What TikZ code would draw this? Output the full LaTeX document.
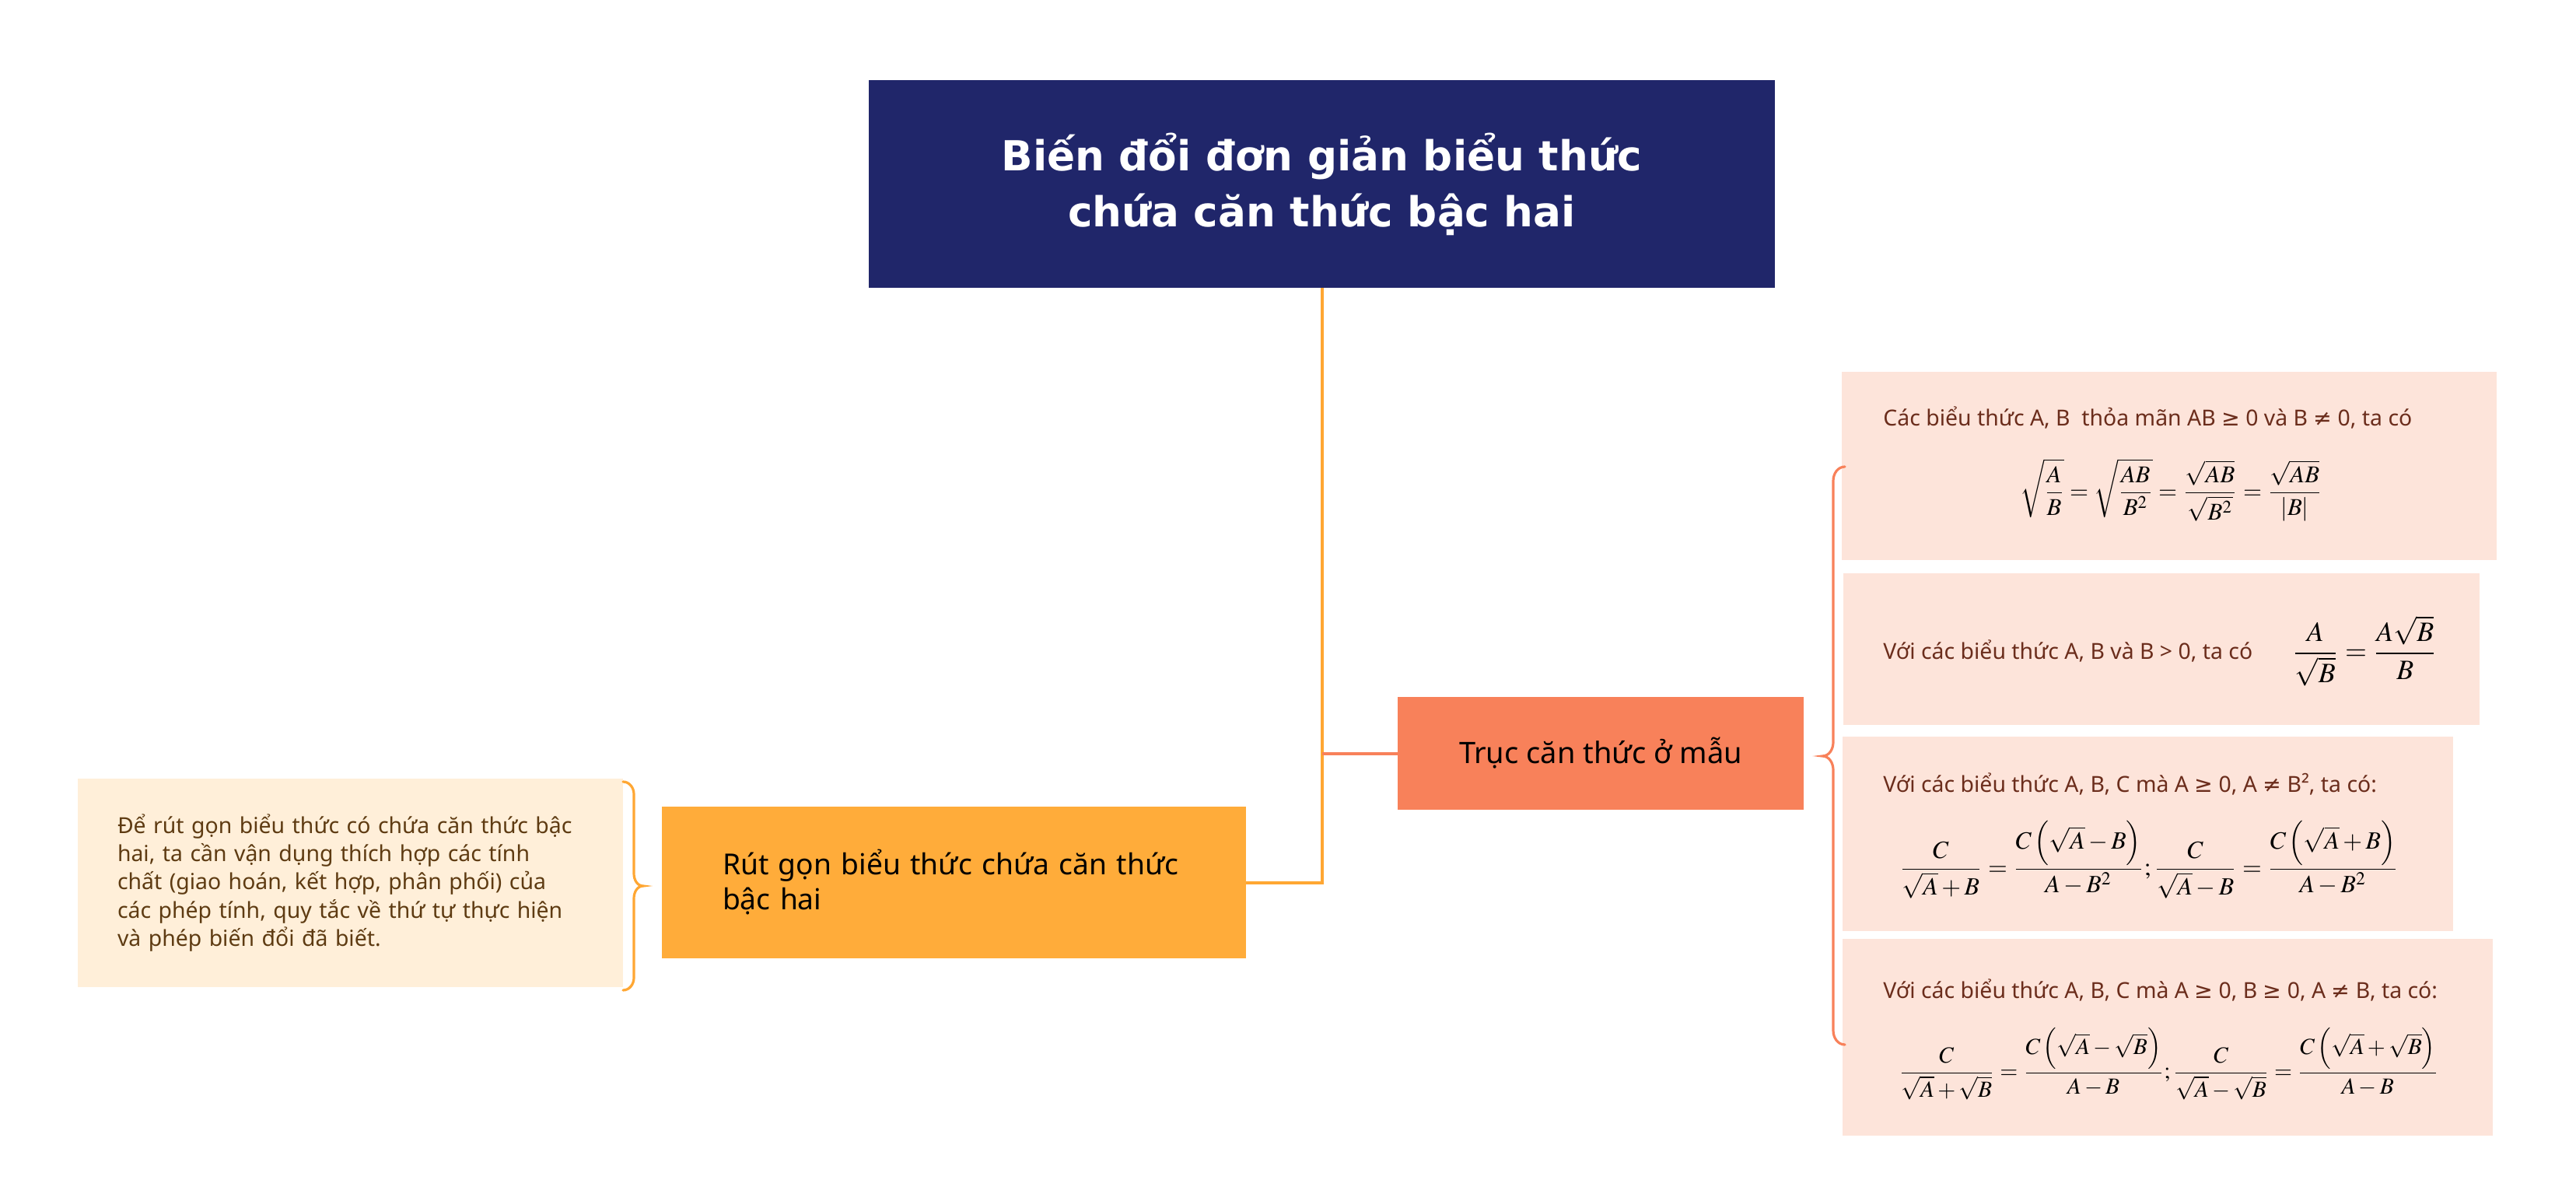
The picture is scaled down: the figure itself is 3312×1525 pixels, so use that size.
\documentclass[tikz,border=0pt]{standalone}
\usepackage{mathptmx}
\usepackage[no-math]{fontspec}
\setmainfont{Noto Sans}
\newfontfamily\titlefont{DejaVu Sans}
\newfontfamily\symfont{DejaVu Sans}
\newcommand{\geqsym}{{\symfont ≥}}
\newcommand{\neqsym}{{\symfont ≠}}
\usepackage{graphicx}
\definecolor{navy}{HTML}{20266A}
\definecolor{salmon}{HTML}{F8815A}
\definecolor{amber}{HTML}{FFAC3A}
\definecolor{cream}{HTML}{FFEFD9}
\definecolor{pinkbox}{HTML}{FDE4DA}
\definecolor{lineorange}{HTML}{FFA733}
\definecolor{notetext}{HTML}{5E3B12}
\definecolor{pinktext}{HTML}{6B2D1C}
\begin{document}
\begin{tikzpicture}[x=0.5pt,y=-0.5pt,
  boxnode/.style={inner sep=0pt, outer sep=0pt},
  conn/.style={line width=2pt, draw=lineorange},
  connT/.style={line width=2pt, draw=salmon},
  bracel/.style={line width=1.6pt, draw=lineorange, line cap=round},
  bracer/.style={line width=1.6pt, draw=salmon, line cap=round},
  ptext/.style={inner sep=0pt, anchor=west, text=pinktext, font=\fontsize{14.2}{17}\selectfont},
  fml/.style={inner sep=0pt, text=black}]
\useasboundingbox (0,0) rectangle (3312,1525);
\fill[white] (0,0) rectangle (3312,1525);

% title
\node[boxnode, fill=navy, minimum width=582.5pt, minimum height=133.5pt,
  text=white, align=center, font=\titlefont\bfseries\fontsize{26.6}{36}\selectfont] (title) at (1699.5,236.5)
  {Biến đổi đơn giản biểu thức\\chứa căn thức bậc hai};

% level 1
\node[boxnode, fill=salmon, minimum width=261pt, minimum height=72.5pt,
  font=\fontsize{19}{22}\selectfont] (truc) at (2058,968.5) {Trục căn thức ở mẫu};
\node[boxnode, fill=amber, minimum height=97.5pt, text width=297.5pt, inner xsep=39pt,
  align=left, font=\fontsize{18.6}{22.5}\selectfont] (rutgon) at (1226.5,1134.5)
  {Rút gọn biểu thức chứa căn thức\\bậc hai};

% note on the left
\node[boxnode, fill=cream, minimum height=134pt, text width=299.5pt, inner xsep=25.5pt,
  align=left, text=notetext, font=\fontsize{14.2}{18.2}\selectfont] (note) at (450.5,1135)
  {Để rút gọn biểu thức có chứa căn thức bậc\\hai, ta cần vận dụng thích hợp các tính\\chất (giao hoán, kết hợp, phân phối) của\\các phép tính, quy tắc về thứ tự thực hiện\\và phép biến đổi đã biết.};

% right boxes
\node[boxnode, fill=pinkbox, minimum width=421pt, minimum height=121pt] (r1) at (2789,599) {};
\node[boxnode, fill=pinkbox, minimum width=409pt, minimum height=97.5pt] (r2) at (2779,834.5) {};
\node[boxnode, fill=pinkbox, minimum width=392.5pt, minimum height=125pt] (r3) at (2761.5,1072) {};
\node[boxnode, fill=pinkbox, minimum width=418pt, minimum height=126.5pt] (r4) at (2786.5,1333.5) {};

\node[ptext] (r1t) at (2421,537) {Các biểu thức A, B\ \ thỏa mãn AB \geqsym{} 0 và B \neqsym{} 0, ta có};
\node[fml] (r1f) at (2791.5,630) {\resizebox{194.5pt}{!}{$\displaystyle \sqrt{\frac{A}{B}}=\sqrt{\frac{AB}{B^2}}=\frac{\sqrt{AB}}{\sqrt{B^2}}=\frac{\sqrt{AB}}{\left|B\right|}$}};

\node[ptext] (r2t) at (2421,837) {Với các biểu thức A, B và B > 0, ta có};
\node[fml] (r2f) at (3040,837) {\resizebox{93.5pt}{!}{$\displaystyle \frac{A}{\sqrt{B}}=\frac{A\sqrt{B}}{B}$}};

\node[ptext] (r3t) at (2421,1008) {Với các biểu thức A, B, C mà A \geqsym{} 0, A \neqsym{} B², ta có:};
\node[fml] (r3f) at (2763,1105) {\resizebox{321pt}{!}{$\displaystyle \frac{C}{\sqrt{A}+B}=\frac{C\left(\sqrt{A}-B\right)}{A-B^2};\frac{C}{\sqrt{A}-B}=\frac{C\left(\sqrt{A}+B\right)}{A-B^2}$}};

\node[ptext] (r4t) at (2421,1273) {Với các biểu thức A, B, C mà A \geqsym{} 0, B \geqsym{} 0, A \neqsym{} B, ta có:};
\node[fml] (r4f) at (2788,1368) {\resizebox{347pt}{!}{$\displaystyle \frac{C}{\sqrt{A}+\sqrt{B}}=\frac{C\left(\sqrt{A}-\sqrt{B}\right)}{A-B};\frac{C}{\sqrt{A}-\sqrt{B}}=\frac{C\left(\sqrt{A}+\sqrt{B}\right)}{A-B}$}};

% connectors
\draw[conn] (title.south) |- (rutgon.east);
\draw[connT] (title.south |- truc.west) -- (truc.west);

% right brace
\coordinate (rtip) at (2343,972);
\draw[bracer] (2372,600) to[out=180,in=90] (2357,618) -- (2357,954)
  to[out=-90,in=0] (rtip) to[out=0,in=90] (2357,990) -- (2357,1325)
  to[out=-90,in=180] (2372,1343);

% left brace
\coordinate (ltip) at (827,1139);
\draw[bracel] (801,1005) to[out=0,in=90] (815,1021) -- (815,1123)
  to[out=-90,in=180] (ltip) to[out=180,in=90] (815,1155) -- (815,1257)
  to[out=-90,in=0] (801,1273);
\end{tikzpicture}
\end{document}
